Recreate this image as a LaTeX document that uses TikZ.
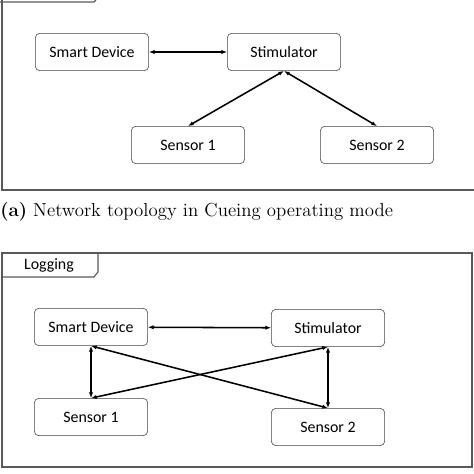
\documentclass[tikz,border=0pt]{standalone}
\usepackage{fontspec}
\newfontfamily\calibri{Carlito}
\usetikzlibrary{arrows.meta}

\tikzset{
  box/.style={draw=black!75,rounded corners=3pt,minimum width=2.83cm,minimum height=0.93cm,
    font=\calibri\fontsize{11.3}{13}\selectfont,inner sep=0pt},
  link/.style={<->,line width=1.1pt},
  frame/.style={draw=black!65,line width=0.8pt}
}

\begin{document}
\begin{tikzpicture}[x=0.025cm,y=-0.025cm,>={Latex[length=4pt,width=3pt]}]
  \useasboundingbox (0,0) rectangle (474,474);

    % --------------------------------------------------------- %
    % ------------- frame (a)
    % --------------------------------------------------------- %
    \draw[frame] (2,-2) -- (2,190) -- (476,190);
    \draw[frame] (0,2) -- (94,2) -- (96,0);

    \node[box] (sd) at (92,52) {Smart Device};
    \node[box] (stim) at (284,52) {Stimulator};
    \node[box] (sens1) at (188,145) {Sensor 1};
    \node[box] (sens2) at (377,145) {Sensor 2};

    \draw[link] (sd) to (stim);
    \draw[link] (stim.south) to (sens1.north);
    \draw[link] (stim.south) to (sens2.north);

    \node[anchor=west,inner sep=0pt,font=\fontsize{13.4}{15}\selectfont] (capa) at (0,212)
      {\textbf{(a)} Network topology in Cueing operating mode};

    % --------------------------------------------------------- %
    % ------------- frame (b), Logging
    % --------------------------------------------------------- %
    \draw[frame] (2,253) rectangle (472,467);
    \draw[frame] (98,253) -- (98,272) -- (94,277) -- (2,277);
    \node[font=\calibri\fontsize{11.3}{13}\selectfont] (logging) at (49,265) {Logging};

    \node[box] (sdb) at (91,327) {Smart Device};
    \node[box] (stimb) at (328,328) {Stimulator};
    \node[box] (sens1b) at (91,417) {Sensor 1};
    \node[box] (sens2b) at (328,427) {Sensor 2};

    \draw[link] (sdb) to (stimb);
    \draw[link] (sens1b.north) to (sdb.south);
    \draw[link] (sens1b.north) to (stimb.south);
    \draw[link] (sdb.south) to (sens2b.north);
    \draw[link] (stimb.south) to (sens2b.north);

\end{tikzpicture}
\end{document}
